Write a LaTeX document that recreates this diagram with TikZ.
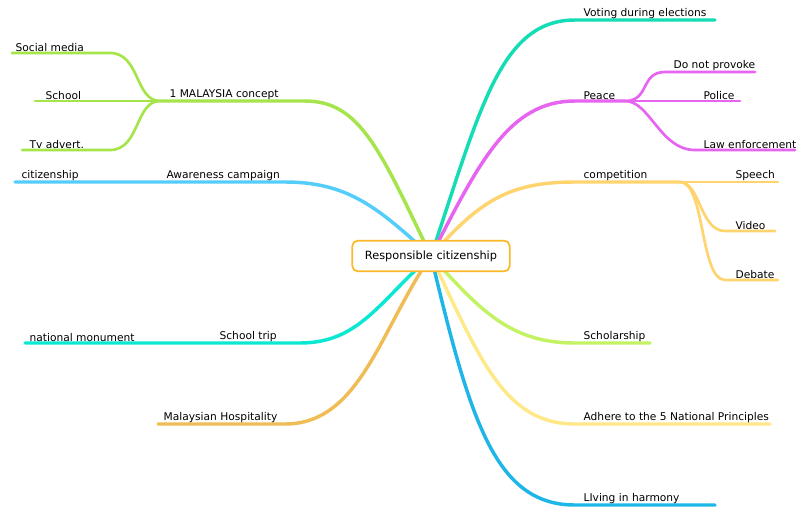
\documentclass[tikz,border=0pt]{standalone}
\usepackage{fontspec}
\setmainfont{DejaVu Sans}
\begin{document}
\begin{tikzpicture}[x=0.75pt,y=-0.75pt,
  lbl/.style={font=\fontsize{8}{9}\selectfont,anchor=south west,inner sep=1pt},
  br/.style={line width=2.6pt,line cap=round},
  sb/.style={line width=2pt,line cap=round}]
\useasboundingbox (0,0) rectangle (806,511);
\definecolor{cVote}{RGB}{20,220,180}
\definecolor{cPeace}{RGB}{230,100,240}
\definecolor{cComp}{RGB}{255,212,110}
\definecolor{cSchol}{RGB}{195,242,100}
\definecolor{cAdh}{RGB}{255,232,135}
\definecolor{cLiv}{RGB}{30,182,232}
\definecolor{cMal}{RGB}{165,228,75}
\definecolor{cAw}{RGB}{85,205,250}
\definecolor{cTrip}{RGB}{10,232,212}
\definecolor{cHosp}{RGB}{240,188,85}
\definecolor{cBox}{RGB}{250,185,40}
\coordinate (c) at (431,256);
% right branches
\draw[br,cVote] (c) .. controls (480,110) and (500,20) .. (575,20) -- (715,20);
\node[lbl] (vote) at (582,20) {Voting during elections};
\draw[br,cPeace] (c) .. controls (480,160) and (510,101) .. (575,101) -- (625,101);
\node[lbl] (peace) at (582,101) {Peace};
\coordinate (pj) at (625,101);
\draw[sb,cPeace] (pj) .. controls (650,101) and (640,72) .. (665,72) -- (755,72);
\draw[sb,cPeace] (pj) -- (740,101);
\draw[sb,cPeace] (pj) .. controls (650,101) and (660,150) .. (695,150) -- (795,150);
\node[lbl] (dnp) at (672,72) {Do not provoke};
\node[lbl] (pol) at (702,101) {Police};
\node[lbl] (law) at (702,150) {Law enforcement};
\draw[br,cComp] (c) .. controls (480,200) and (510,182) .. (575,182) -- (680,182);
\node[lbl] (comp) at (582,182) {competition};
\coordinate (cj) at (680,182);
\draw[sb,cComp] (cj) -- (778,182);
\draw[sb,cComp] (cj) .. controls (700,182) and (700,231) .. (725,231) -- (775,231);
\draw[sb,cComp] (cj) .. controls (705,182) and (700,280) .. (725,280) -- (778,280);
\node[lbl] (sp) at (734,182) {Speech};
\node[lbl] (vid) at (734,231) {Video};
\node[lbl] (deb) at (734,280) {Debate};
\draw[br,cSchol] (c) .. controls (480,310) and (510,343) .. (575,343) -- (650,343);
\node[lbl] (sch) at (582,343) {Scholarship};
\draw[br,cAdh] (c) .. controls (480,360) and (505,424) .. (575,424) -- (770,424);
\node[lbl] (adh) at (582,424) {Adhere to the 5 National Principles};
\draw[br,cLiv] (c) .. controls (470,420) and (495,505) .. (575,505) -- (715,505);
\node[lbl] (liv) at (582,505) {LIving in harmony};
% left branches
\draw[br,cMal] (c) .. controls (380,150) and (360,101) .. (305,101) -- (160,101);
\node[lbl] (mal) at (168,101) {1 MALAYSIA concept};
\coordinate (mj) at (160,101);
\draw[sb,cMal] (mj) .. controls (135,101) and (140,53) .. (110,53) -- (12,53);
\draw[sb,cMal] (mj) -- (35,101);
\draw[sb,cMal] (mj) .. controls (135,101) and (140,150) .. (110,150) -- (22,150);
\node[lbl] (soc) at (14,53) {Social media};
\node[lbl] (scl) at (44,101) {School};
\node[lbl] (tv) at (28,150) {Tv advert.};
\draw[br,cAw] (c) .. controls (380,210) and (350,182) .. (285,182) -- (160,182) -- (15,182);
\node[lbl] (aw) at (165,182) {Awareness campaign};
\node[lbl] (cit) at (20,182) {citizenship};
\draw[br,cTrip] (c) .. controls (380,300) and (360,343) .. (300,343) -- (210,343) -- (25,343);
\node[lbl] (trip) at (218,343) {School trip};
\node[lbl] (nm) at (28,343) {national monument};
\draw[br,cHosp] (c) .. controls (380,330) and (360,424) .. (285,424) -- (158,424);
\node[lbl] (hosp) at (162,424) {Malaysian Hospitality};
% center
\node[draw=cBox,line width=1.3pt,rounded corners=4pt,fill=white,minimum width=118pt,minimum height=23pt,font=\fontsize{8.5}{10}\selectfont] (center) at (c) {Responsible citizenship};
\end{tikzpicture}
\end{document}
